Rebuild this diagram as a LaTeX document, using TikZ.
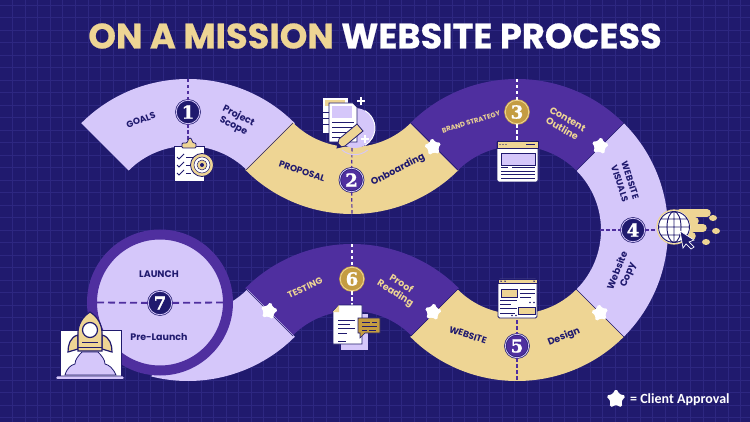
\documentclass[tikz,border=0pt]{standalone}
\usepackage{fontspec}
\usepackage{amsmath,amssymb}
\usetikzlibrary{shapes.geometric}
\setmainfont{Poppins}
\newfontfamily\titlefont{Poppins}[BoldFeatures={FakeBold=0.6}]
\newfontfamily\digitfont{DejaVu Serif}[BoldFeatures={FakeBold=1.2}]
\newfontfamily\legendfont{Carlito}
\definecolor{bgblue}{HTML}{201A6E}
\definecolor{gridblue}{HTML}{2D2781}
\definecolor{lavender}{HTML}{D5C7FA}
\definecolor{sand}{HTML}{EED594}
\definecolor{violet}{HTML}{4F2F9F}
\definecolor{ochre}{HTML}{C49C42}
% color, center x, center y, start angle, end angle
\newcommand{\bandpiece}[5]{
	\fill[#1] (#2,#3) ++(#4:151) arc[start angle=#4,end angle=#5,radius=151] -- ++(#5:-67) arc[start angle=#5,end angle=#4,radius=84] -- cycle;
}
% browser window frame: corners, then header height
\newcommand{\browserframe}[5]{
	\fill[white,draw=bgblue,line width=.8pt,rounded corners=1.5pt] (#1,#2) rectangle (#3,#4);
	\fill[sand,draw=bgblue,line width=.8pt] (#1,#2) rectangle (#3,#2+#5);
}
\begin{document}
\begin{tikzpicture}[
		x=1pt,y=-1pt,
		dashpurple/.style={draw=violet,line width=1.2pt,dash pattern=on 3.5pt off 2.5pt},
		dashwhite/.style={draw=white,line width=1.2pt,dash pattern=on 3.5pt off 2.5pt},
		badge/.style={circle,minimum size=23.5pt,inner sep=0pt,text=white,font=\digitfont\bfseries\fontsize{18}{18}\selectfont,double,line width=.7pt,double distance=.8pt},
		badgedark/.style={badge,fill=bgblue,draw=bgblue,double=lavender},
		badgeviolet/.style={badge,fill=violet,draw=bgblue,double=lavender},
		badgegold/.style={badge,fill=ochre,draw=ochre,double=sand},
		darklabel/.style={inner sep=0pt,align=center,text=bgblue,font=\bfseries\fontsize{9.5}{11}\selectfont},
		goldlabel/.style={darklabel,text=sand},
		approval/.style={star,star points=5,star point ratio=1.8,fill=white,draw=white,line width=1.2pt,rounded corners=1.5pt,minimum size=17pt,inner sep=0pt},
		iconline/.style={bgblue,line width=.9pt}
		]
	\useasboundingbox (0,0) rectangle (750,422);
	\fill[bgblue] (0,0) rectangle (750,422);
	\foreach \gx in {0,...,59}
		\draw[gridblue,line width=.7pt] ({12.6+12.55*\gx},0) -- ({12.6+12.55*\gx},422);
	\foreach \gy in {0,...,33}
		\draw[gridblue,line width=.7pt] (0,{5+12.5*\gy}) -- (750,{5+12.5*\gy});
	
	\node[inner sep=0pt,font=\titlefont\bfseries\fontsize{35.2}{35.2}\selectfont] (title) at (375,36) {\textcolor{sand}{ON A MISSION} \textcolor{white}{WEBSITE PROCESS}};
	
	% the ribbon
	\bandpiece{lavender}{188}{230}{225}{315}
	\bandpiece{sand}{352}{63}{135}{45}
	\bandpiece{violet}{517}{230}{225}{315}
	\bandpiece{lavender}{517}{230}{315}{405}
	\bandpiece{sand}{517}{230}{45}{135}
	\bandpiece{violet}{352}{395}{315}{225}
	\bandpiece{lavender}{188}{230}{45}{104}
	
	\coordinate (joinAo) at (293,123);
	\coordinate (joinAi) at (246,170);
	\coordinate (joinBo) at (411,123);
	\coordinate (joinBi) at (458,170);
	\coordinate (joinCo) at (624,123);
	\coordinate (joinCi) at (576,171);
	\coordinate (joinDo) at (624,337);
	\coordinate (joinDi) at (576,289);
	\coordinate (joinEo) at (411,336);
	\coordinate (joinEi) at (458,289);
	\coordinate (joinFo) at (246,289);
	\coordinate (joinFi) at (293,336);
	\foreach \ja/\jb in {joinAo/joinAi,joinBo/joinBi,joinCo/joinCi,joinDo/joinDi,joinEo/joinEi,joinFo/joinFi}
		\draw[bgblue,line width=.6pt] (\ja) -- (\jb);
	
	% launch circle
	\node[circle,fill=lavender,draw=violet,line width=10pt,minimum size=136pt,inner sep=0pt] (launchring) at (160,302.5) {};
	
	% step badges
	\node[badgedark] (stepone) at (188,112) {1};
	\node[badgeviolet] (steptwo) at (351.5,180) {2};
	\node[badgegold] (stepthree) at (517,112) {3};
	\node[badgedark] (stepfour) at (633,230) {4};
	\node[badgeviolet] (stepfive) at (517,346) {5};
	\node[badgegold] (stepsix) at (352,279) {6};
	\node[badgedark] (stepseven) at (160,303) {7};
	
	\coordinate (dashonea) at (188,79);
	\coordinate (dashoneb) at (188,146);
	\coordinate (dashtwoa) at (352,148);
	\coordinate (dashtwob) at (352,214);
	\coordinate (dashthreea) at (517,79);
	\coordinate (dashthreeb) at (517,146);
	\coordinate (dashfoura) at (600,230);
	\coordinate (dashfourb) at (667,230);
	\coordinate (dashfivea) at (517,314);
	\coordinate (dashfiveb) at (517,381);
	\coordinate (dashsixa) at (352,244);
	\coordinate (dashsixb) at (352,311);
	\coordinate (dashsevena) at (97,302.5);
	\coordinate (dashsevenb) at (223,302.5);
	\foreach \da/\db/\dstep in {dashonea/dashoneb/stepone,dashtwoa/dashtwob/steptwo,dashfoura/dashfourb/stepfour,dashfivea/dashfiveb/stepfive}{
		\draw[dashpurple] (\da) -- (\dstep);
		\draw[dashpurple] (\dstep) -- (\db);
	}
	\foreach \da/\db/\dstep in {dashthreea/dashthreeb/stepthree,dashsixa/dashsixb/stepsix}{
		\draw[dashwhite] (\da) -- (\dstep);
		\draw[dashwhite] (\dstep) -- (\db);
	}
	\draw[dashpurple,line width=1.8pt,dash pattern=on 7pt off 4pt] (dashsevena) -- (stepseven);
	\draw[dashpurple,line width=1.8pt,dash pattern=on 7pt off 4pt] (stepseven) -- (dashsevenb);
	
	% labels
	\node[darklabel,rotate=21,font=\bfseries\fontsize{9}{11}\selectfont] (goals) at (141,120) {GOALS};
	\node[darklabel,rotate=-27] (scope) at (236,121) {Project\\Scope};
	\node[darklabel,rotate=-18,font=\bfseries\fontsize{9}{11}\selectfont] (proposal) at (302,171) {PROPOSAL};
	\node[darklabel,rotate=27] (onboarding) at (398,170) {Onboarding};
	\node[goldlabel,rotate=17,font=\bfseries\fontsize{6.8}{7}\selectfont] (brand) at (471,122) {BRAND STRATEGY};
	\node[goldlabel,rotate=-30] (outline) at (565,124) {Content\\Outline};
	\node[darklabel,rotate=-72,font=\bfseries\fontsize{9}{11}\selectfont] (visuals) at (625,182) {WEBSITE\\VISUALS};
	\node[darklabel,rotate=68] (copy) at (623,273) {Website\\Copy};
	\node[darklabel,rotate=-18,font=\bfseries\fontsize{9}{11}\selectfont] (website) at (468,335) {WEBSITE};
	\node[darklabel,rotate=22] (design) at (564,337) {Design};
	\node[goldlabel,rotate=-32] (proof) at (398,289) {Proof\\Reading};
	\node[goldlabel,rotate=25,font=\bfseries\fontsize{9}{11}\selectfont] (testing) at (305,288) {TESTING};
	\node[darklabel] (launch) at (159,274) {LAUNCH};
	\node[darklabel] (prelaunch) at (159,337) {Pre-Launch};
	
	% stars
	\node[approval,rotate=8] (starone) at (433,147) {};
	\node[approval,rotate=-8] (startwo) at (600,146) {};
	\node[approval,rotate=8] (starthree) at (600,313) {};
	\node[approval,rotate=-8] (starfour) at (433,312) {};
	\node[approval,rotate=-10] (starfive) at (269,311) {};
	\node[approval,minimum size=19pt] (starkey) at (616,399) {};
	\node[anchor=west,inner sep=0pt,text=white,font=\legendfont\bfseries\fontsize{14}{14}\selectfont] (keytext) at (630,400) {= Client Approval};
	
	% clipboard
	\fill[white,draw=bgblue,line width=.8pt] (174,146) rectangle (204,181);
	\fill[sand,draw=bgblue,line width=.8pt,rounded corners=1pt] (182,148) -- (182,143) -- (187,143) -- (189,138) -- (191,138) -- (193,143) -- (196,143) -- (196,148) -- cycle;
	\foreach \cy in {157,165,173}
		\draw[bgblue,line width=1pt] (177,\cy) -- (179,\cy+2) -- (184,\cy-3);
	\draw[iconline] (186,157) -- (194,157) (186,165) -- (190,165) (186,173) -- (191,173);
	\fill[sand,draw=bgblue,line width=.8pt] (202,165) circle (11.5);
	\fill[white,draw=bgblue,line width=.5pt] (202,165) circle (8);
	\fill[sand,draw=bgblue,line width=.5pt] (202,165) circle (5);
	\fill[bgblue] (202,165) circle (2);
	
	% documents with pencil
	\fill[lavender] (355,128) circle (20);
	\draw[white,line width=.9pt] (355,128) ++(-60:20) arc[start angle=-60,end angle=60,radius=20];
	\draw[lavender,line width=.9pt] (342,150) arc[start angle=130,end angle=50,radius=20];
	\fill[white,draw=bgblue,line width=.8pt] (322,97) rectangle (348,133);
	\fill[sand] (325,100) rectangle (345,106);
	\draw[iconline] (323,112) -- (329,112) (323,118) -- (329,118) (323,124) -- (329,124);
	\fill[white,draw=bgblue,line width=.8pt] (329,103) -- (353,103) -- (357,107) -- (357,142) -- (329,142) -- cycle;
	\fill[lavender] (332,106) rectangle (352,118);
	\draw[iconline] (332,122) -- (354,122) (332,127) -- (354,127) (332,132) -- (350,132) (332,137) -- (346,137);
	\fill[sand,draw=bgblue,line width=.8pt] (337,148) -- (339,139) -- (357,124) -- (363,131) -- (345,146) -- cycle;
	\fill[bgblue] (337,148) -- (338,143) -- (342,147) -- cycle;
	\draw[white,line width=1.4pt] (357,101) -- (365,101) (361,97) -- (361,105) (361,139) -- (369,139) (365,135) -- (365,143);
	
	% browser with hero
	\browserframe{497}{141}{538}{182}{7.5}
	\fill[bgblue] (500,144.5) circle (.7) (503,144.5) circle (.7) (506,144.5) circle (.7);
	\draw[bgblue,line width=.8pt] (526,144.5) -- (535,144.5);
	\fill[lavender,draw=bgblue,line width=.8pt] (501,153) rectangle (535,165);
	\draw[iconline] (501,167.5) -- (508,167.5) (512,167.5) -- (535,167.5) (501,171) -- (535,171) (501,174.5) -- (535,174.5) (501,178) -- (535,178);
	
	% globe
	\foreach \by/\bx in {213/707,221/695,228/703,236/692}
		\draw[sand,line width=7.5pt,line cap=round] (680,\by) -- (\bx,\by);
	\fill[sand] (713,218) ellipse (4 and 3) (716,231) ellipse (4 and 3) (706,242) ellipse (4 and 3);
	\fill[white,draw=sand,line width=1.2pt] (674,227) circle (17);
	\draw[bgblue,line width=.9pt] (674,227) circle (15.5) (674,227) ellipse (7 and 15.5) (674,211.5) -- (674,242.5) (658.5,227) -- (689.5,227) (661,219) -- (687,219) (661,235) -- (687,235);
	\fill[bgblue,draw=white,line width=.7pt] (680,231) -- (694,240) -- (689,242) -- (694,247) -- (691,249) -- (686,244) -- (683,248) -- cycle;
	
	% browser with layout
	\browserframe{498}{279}{537}{318}{4.5}
	\fill[bgblue] (501,281.2) circle (.8) (505,281.2) circle (.8) (534,281.2) circle (.8);
	\fill[sand,draw=bgblue,line width=.8pt] (501,289) rectangle (517,297);
	\draw[iconline] (520,289) -- (535,289) (520,293) -- (535,293) (520,297) -- (531,297) (500,300) -- (517,300) (500,304) -- (511,304) (500,308) -- (517,308) (500,313) -- (515,313);
	\fill[bgblue] (530,302.5) circle (.8) (534,302.5) circle (.8) (512,315.5) circle (.8) (516,315.5) circle (.8);
	\fill[sand,draw=bgblue,line width=.8pt] (518,307) rectangle (535,314);
	
	% document with comment
	\fill[lavender,draw=bgblue,line width=.6pt] (340,313) rectangle (368,350);
	\fill[white,draw=bgblue,line width=.6pt] (339,305) -- (362,305) -- (362,344) -- (333,344) -- (333,311) -- cycle;
	\fill[sand] (339,305) -- (339,312) -- (333,312) -- cycle;
	\draw[iconline] (338,320) -- (355,320) (338,324) -- (350,324) (338,328) -- (355,328) (338,333) -- (347,333) (338,341) -- (346,341);
	\fill[ochre,draw=bgblue,line width=.6pt] (358,318) -- (380,318) -- (380,333) -- (365,333) -- (360,338) -- (360,333) -- (358,333) -- cycle;
	\draw[iconline,line width=.8pt] (362,322) -- (370,322) (372,322) -- (377,322) (362,326) -- (377,326) (362,330) -- (367,330) (369,330) -- (376,330);
	
	% laptop and rocket
	\fill[white,draw=bgblue,line width=.8pt] (60,330) rectangle (121,376);
	\fill[lavender,draw=bgblue,line width=.8pt] (65,375) .. controls (67,368) and (71,365) .. (75,364) .. controls (75,360) and (78,356) .. (82,352) -- (98,352) .. controls (102,356) and (105,360) .. (105,364) .. controls (109,365) and (113,368) .. (116,375) -- cycle;
	\fill[lavender,draw=bgblue,line width=.8pt,rounded corners=1pt] (56,376) rectangle (124,379.5);
	\fill[sand,draw=bgblue,line width=1.2pt] (78,335) .. controls (70,337) and (68,345) .. (68,352) -- (78,349) -- cycle;
	\fill[sand,draw=bgblue,line width=1.2pt] (102,335) .. controls (110,337) and (112,345) .. (112,352) -- (102,349) -- cycle;
	\fill[sand,draw=bgblue,line width=1.2pt] (90,312) .. controls (82,317) and (78,325) .. (78,333) -- (78,351) -- (102,351) -- (102,333) .. controls (102,325) and (98,317) .. (90,312) -- cycle;
	\fill[white,draw=bgblue,line width=1.2pt] (90,330) circle (7.5);
	\draw[bgblue,line width=.8pt] (78,347) -- (102,347) (82,342.5) -- (98,342.5);
\end{tikzpicture}
\end{document}
